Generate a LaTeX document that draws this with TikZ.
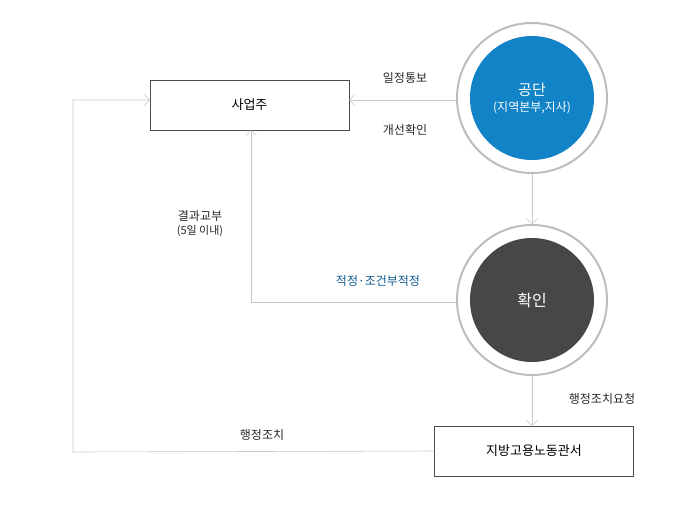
\documentclass[tikz,border=0pt]{standalone}
\usepackage{fontspec}
\setmainfont{Noto Sans CJK KR}
\usetikzlibrary{arrows.meta}
\definecolor{ln}{HTML}{C8C8C8}
\definecolor{ring}{HTML}{BDBDBD}
\definecolor{blu}{HTML}{1183C6}
\definecolor{drk}{HTML}{474747}
\definecolor{lbl}{HTML}{0E5A8E}
\tikzset{
 conn/.style={draw=ln, line width=0.6pt, -{Straight Barb[length=5pt,width=11pt]}},
 box/.style={draw=black!70, line width=0.5pt, fill=white, minimum width=199pt, minimum height=50pt, font=\fontsize{13}{15}\selectfont},
 lab/.style={font=\fontsize{12}{14}\selectfont, text=black!85},
 ringc/.style={circle, draw=ring, line width=2pt, fill=white, minimum size=150pt},
}
\begin{document}
\begin{tikzpicture}[x=1pt,y=-1pt]
\useasboundingbox (0,0) rectangle (694,504);
\node[box] (emp) at (249.5,105) {사업주};
\node[box] (off) at (534,451) {지방고용노동관서};
\node[ringc] (r1) at (532,98) {};
\node[circle, fill=blu, minimum size=124pt] (c1) at (532,98) {};
\node[text=white, align=center, font=\fontsize{15}{18}\selectfont] (t1) at (532,98) {공단\\[-2pt]{\fontsize{12}{14}\selectfont(지역본부,지사)}};
\node[ringc] (r2) at (532,300) {};
\node[circle, fill=drk, minimum size=124pt] (c2) at (532,300) {};
\node[text=white, font=\fontsize{16}{18}\selectfont] (t2) at (532,300) {확인};
\coordinate (k1) at (251,302);
\coordinate (k2) at (73,452);
\coordinate (k3) at (73,100);
\draw[conn] (r1.west) ++(0,2) -- (emp.east |- 0,100);
\draw[conn] (r1.south) -- (r2.north);
\draw[conn] (r2.west) ++(0,2) -- (k1) -- (emp.south -| k1);
\draw[conn] (r2.south) -- (off.north -| r2);
\draw[conn] (off.west) -- (k2) -- (k3) -- (emp.west |- k3);
\node[lab] (l1) at (405,78) {일정통보};
\node[lab] (l2) at (405,130) {개선확인};
\node[lab, align=center] (l3) at (200,224) {결과교부\\{\fontsize{11}{13}\selectfont(5일 이내)}};
\node[lab, text=lbl] (l4) at (378,281) {적정·조건부적정};
\node[lab] (l5) at (602,399) {행정조치요청};
\node[lab] (l6) at (262,435) {행정조치};
\end{tikzpicture}
\end{document}
